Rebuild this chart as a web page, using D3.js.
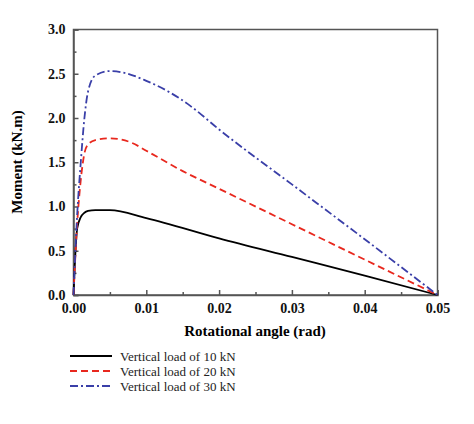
<!DOCTYPE html><html><head><script src="https://cdn.jsdelivr.net/npm/d3@7"></script>
<style>body{margin:0;background:#fff}text{font-family:"Liberation Serif",serif}</style></head><body>
<svg width="474" height="424"></svg>
<script>
const xTicks=[0,0.01,0.02,0.03,0.04,0.05];
const yTicks=[0,0.5,1,1.5,2,2.5,3];
const angle10=[0,0.0005,0.001,0.0015,0.002,0.003,0.005,0.01,0.02,0.03,0.04,0.05];
const load10=[0,0.75,0.88,0.93,0.95,0.96,0.96,0.87,0.64,0.43,0.22,0];
const angle20=[0,0.0005,0.001,0.0015,0.002,0.003,0.005,0.008,0.01,0.015,0.02,0.03,0.04,0.05];
const load20=[0,0.8,1.3,1.6,1.7,1.75,1.77,1.72,1.63,1.4,1.2,0.8,0.4,0];
const angle30=[0,0.0005,0.001,0.0015,0.002,0.003,0.005,0.007,0.01,0.013,0.016,0.02,0.03,0.04,0.05];
const load30=[0,0.9,1.5,2.0,2.3,2.48,2.53,2.51,2.42,2.3,2.14,1.87,1.25,0.63,0];
const labels=["Vertical load of 10 kN","Vertical load of 20 kN","Vertical load of 30 kN"];
const svg=d3.select("svg");
const x=d3.scaleLinear().domain([0,0.05]).range([73.5,437.5]);
const y=d3.scaleLinear().domain([0,3]).range([295,29.5]);
svg.append("rect").attr("x",73.5).attr("y",29.5).attr("width",364).attr("height",265.5).attr("fill","none").attr("stroke","#555").attr("stroke-width",1.5);
svg.append("g").attr("transform","translate(0,295)").call(d3.axisBottom(x).tickValues(xTicks).tickFormat(d3.format(".2f")).tickSize(-5).tickPadding(8));
svg.append("g").attr("transform","translate(0,295)").call(d3.axisBottom(x).tickValues(d3.range(0.005,0.05,0.01)).tickFormat("").tickSize(-3)).select(".domain").remove();
svg.append("g").attr("transform","translate(73.5,0)").call(d3.axisLeft(y).tickValues(yTicks).tickFormat(d3.format(".1f")).tickSize(-5).tickPadding(8));
svg.append("g").attr("transform","translate(73.5,0)").call(d3.axisLeft(y).tickValues(d3.range(0.25,3,0.5)).tickFormat("").tickSize(-3)).select(".domain").remove();
svg.selectAll(".tick text").style("font-size","14px").style("font-weight","bold").attr("fill","#111").style("font-family","Liberation Serif");
svg.selectAll(".domain,.tick line").attr("stroke","#555").attr("stroke-width",1.5);
svg.append("text").attr("x",255).attr("y",336).attr("text-anchor","middle").attr("font-size",15).attr("font-weight","bold").text("Rotational angle (rad)");
svg.append("text").attr("transform","translate(22,162) rotate(-90)").attr("text-anchor","middle").attr("font-size",15).attr("font-weight","bold").text("Moment (kN.m)");
const series=[[angle10,load10,"#000",null],[angle20,load20,"#e8281e","7,4"],[angle30,load30,"#3a3fa8","8,3,2,3"]];
const line=d3.line().x(d=>x(d[0])).y(d=>y(d[1])).curve(d3.curveMonotoneX);
series.forEach((s,i)=>{
 svg.append("path").datum(s[0].map((a,j)=>[a,s[1][j]])).attr("d",line).attr("fill","none").attr("stroke",s[2]).attr("stroke-width",1.8).attr("stroke-dasharray",s[3]);
 const ly=356+i*15;
 svg.append("line").attr("x1",70).attr("x2",112).attr("y1",ly).attr("y2",ly).attr("stroke",s[2]).attr("stroke-width",1.8).attr("stroke-dasharray",s[3]);
 svg.append("text").attr("x",120).attr("y",ly+4.5).attr("font-size",13).attr("fill","#222").text(labels[i]);
});
</script></body></html>
